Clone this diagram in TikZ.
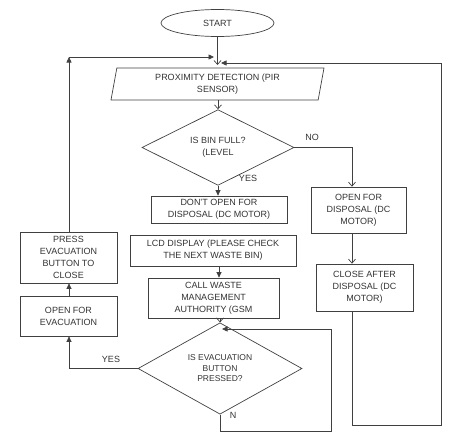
\documentclass[tikz,border=0pt]{standalone}
\usepackage{fontspec}
\setmainfont{Liberation Sans}
\usetikzlibrary{shapes.geometric,arrows.meta}

\begin{document}
\begin{tikzpicture}[x=1pt,y=-1pt,
  every node/.style={font=\fontsize{9}{12}\selectfont, text=black!80, align=center, inner sep=0pt},
  box/.style={draw=black!75, line width=0.7pt, rectangle},
  term/.style={draw=black!75, line width=0.7pt, ellipse, minimum width=113pt, minimum height=27pt},
  io/.style={draw=black!75, line width=0.7pt, trapezium, trapezium left angle=74, trapezium right angle=106,
    trapezium stretches body, minimum width=213pt, minimum height=32pt},
  dec/.style={draw=black!75, line width=0.7pt, diamond},
  wire/.style={draw=black!75, line width=0.7pt},
  tri/.style={wire, -{Triangle[length=5.5pt,width=5pt]}},
  barb/.style={wire, -{Straight Barb[length=4pt,width=7pt]}}]
\useasboundingbox (0,0) rectangle (474,439);

% main column
\node[term] (start) at (217.5,23) {START};
\node[io] (prox) at (217.5,84) {PROXIMITY DETECTION (PIR\\SENSOR)};
\node[dec, minimum width=152pt, minimum height=51pt] (binfull) at (218,147.5) {IS BIN FULL?\\(LEVEL};
\node[box, minimum width=136pt, minimum height=27pt] (noopen) at (219,209.5) {DON'T OPEN FOR\\DISPOSAL (DC MOTOR)};
\node[box, minimum width=166pt, minimum height=31pt] (lcd) at (213,250.5) {LCD DISPLAY (PLEASE CHECK\\THE NEXT WASTE BIN)};
\node[box, minimum width=131pt, minimum height=40pt] (gsm) at (213.5,298) {CALL WASTE\\MANAGEMENT\\AUTHORITY (GSM};
\node[dec, minimum width=164pt, minimum height=71pt, font=\fontsize{8.5}{10.5}\selectfont] (evac) at (220,368.5) {IS EVACUATION\\BUTTON\\PRESSED?};

% left column
\node[box, minimum width=97pt, minimum height=40pt] (openev) at (68.5,316) {OPEN FOR\\EVACUATION};
\node[box, minimum width=97pt, minimum height=51pt] (press) at (68.5,257.5) {PRESS\\EVACUATION\\BUTTON TO\\CLOSE};

% right column
\node[box, minimum width=95pt, minimum height=46pt] (opendisp) at (358.5,210) {OPEN FOR\\DISPOSAL (DC\\MOTOR)};
\node[box, minimum width=97pt, minimum height=47pt] (closedisp) at (364.5,287.5) {CLOSE AFTER\\DISPOSAL (DC\\MOTOR)};

% labels
\node (lno) at (312,137) {NO};
\node (lyes) at (248,178) {YES};
\node (lyes2) at (111,359) {YES};
\node (ln) at (233,415) {N};

% corners and joins
\coordinate (join) at (217.5,65);
\coordinate (joinL) at (214,57);
\coordinate (joinR) at (221,63);
\coordinate (joinN) at (222,329);
\coordinate (cornerL) at (69,57);
\coordinate (cornerR1) at (441,63);
\coordinate (cornerR2) at (441,425);
\coordinate (cornerR3) at (352,425);
\coordinate (cornerN) at (331,431);

\draw[barb] (start.south) -- (join);
\draw[barb] (binfull.north |- prox.south) -- (binfull.north);
\draw[tri] (binfull.south) -- (binfull.south |- noopen.north);
\draw[tri] (lcd.south -| noopen) -- (gsm.north -| noopen);
\draw[barb] (evac.north |- gsm.south) -- (evac.north);

\draw[barb] (binfull.east) -| (opendisp.north -| cornerR3);
\draw[barb] (opendisp.south -| cornerR3) -- (closedisp.north -| cornerR3);
\draw[tri] (closedisp.south -| cornerR3) -- (cornerR3) -- (cornerR2) -- (cornerR1) -- (joinR);

\draw[tri] (evac.west) -| (openev.south -| cornerL);
\draw[tri] (openev.north -| cornerL) -- (press.south -| cornerL);
\draw[tri] (press.north -| cornerL) -- (cornerL);
\draw[tri] (cornerL) -- (joinL);

\draw[tri] (evac.south) |- (cornerN) |- (joinN);
\end{tikzpicture}
\end{document}
